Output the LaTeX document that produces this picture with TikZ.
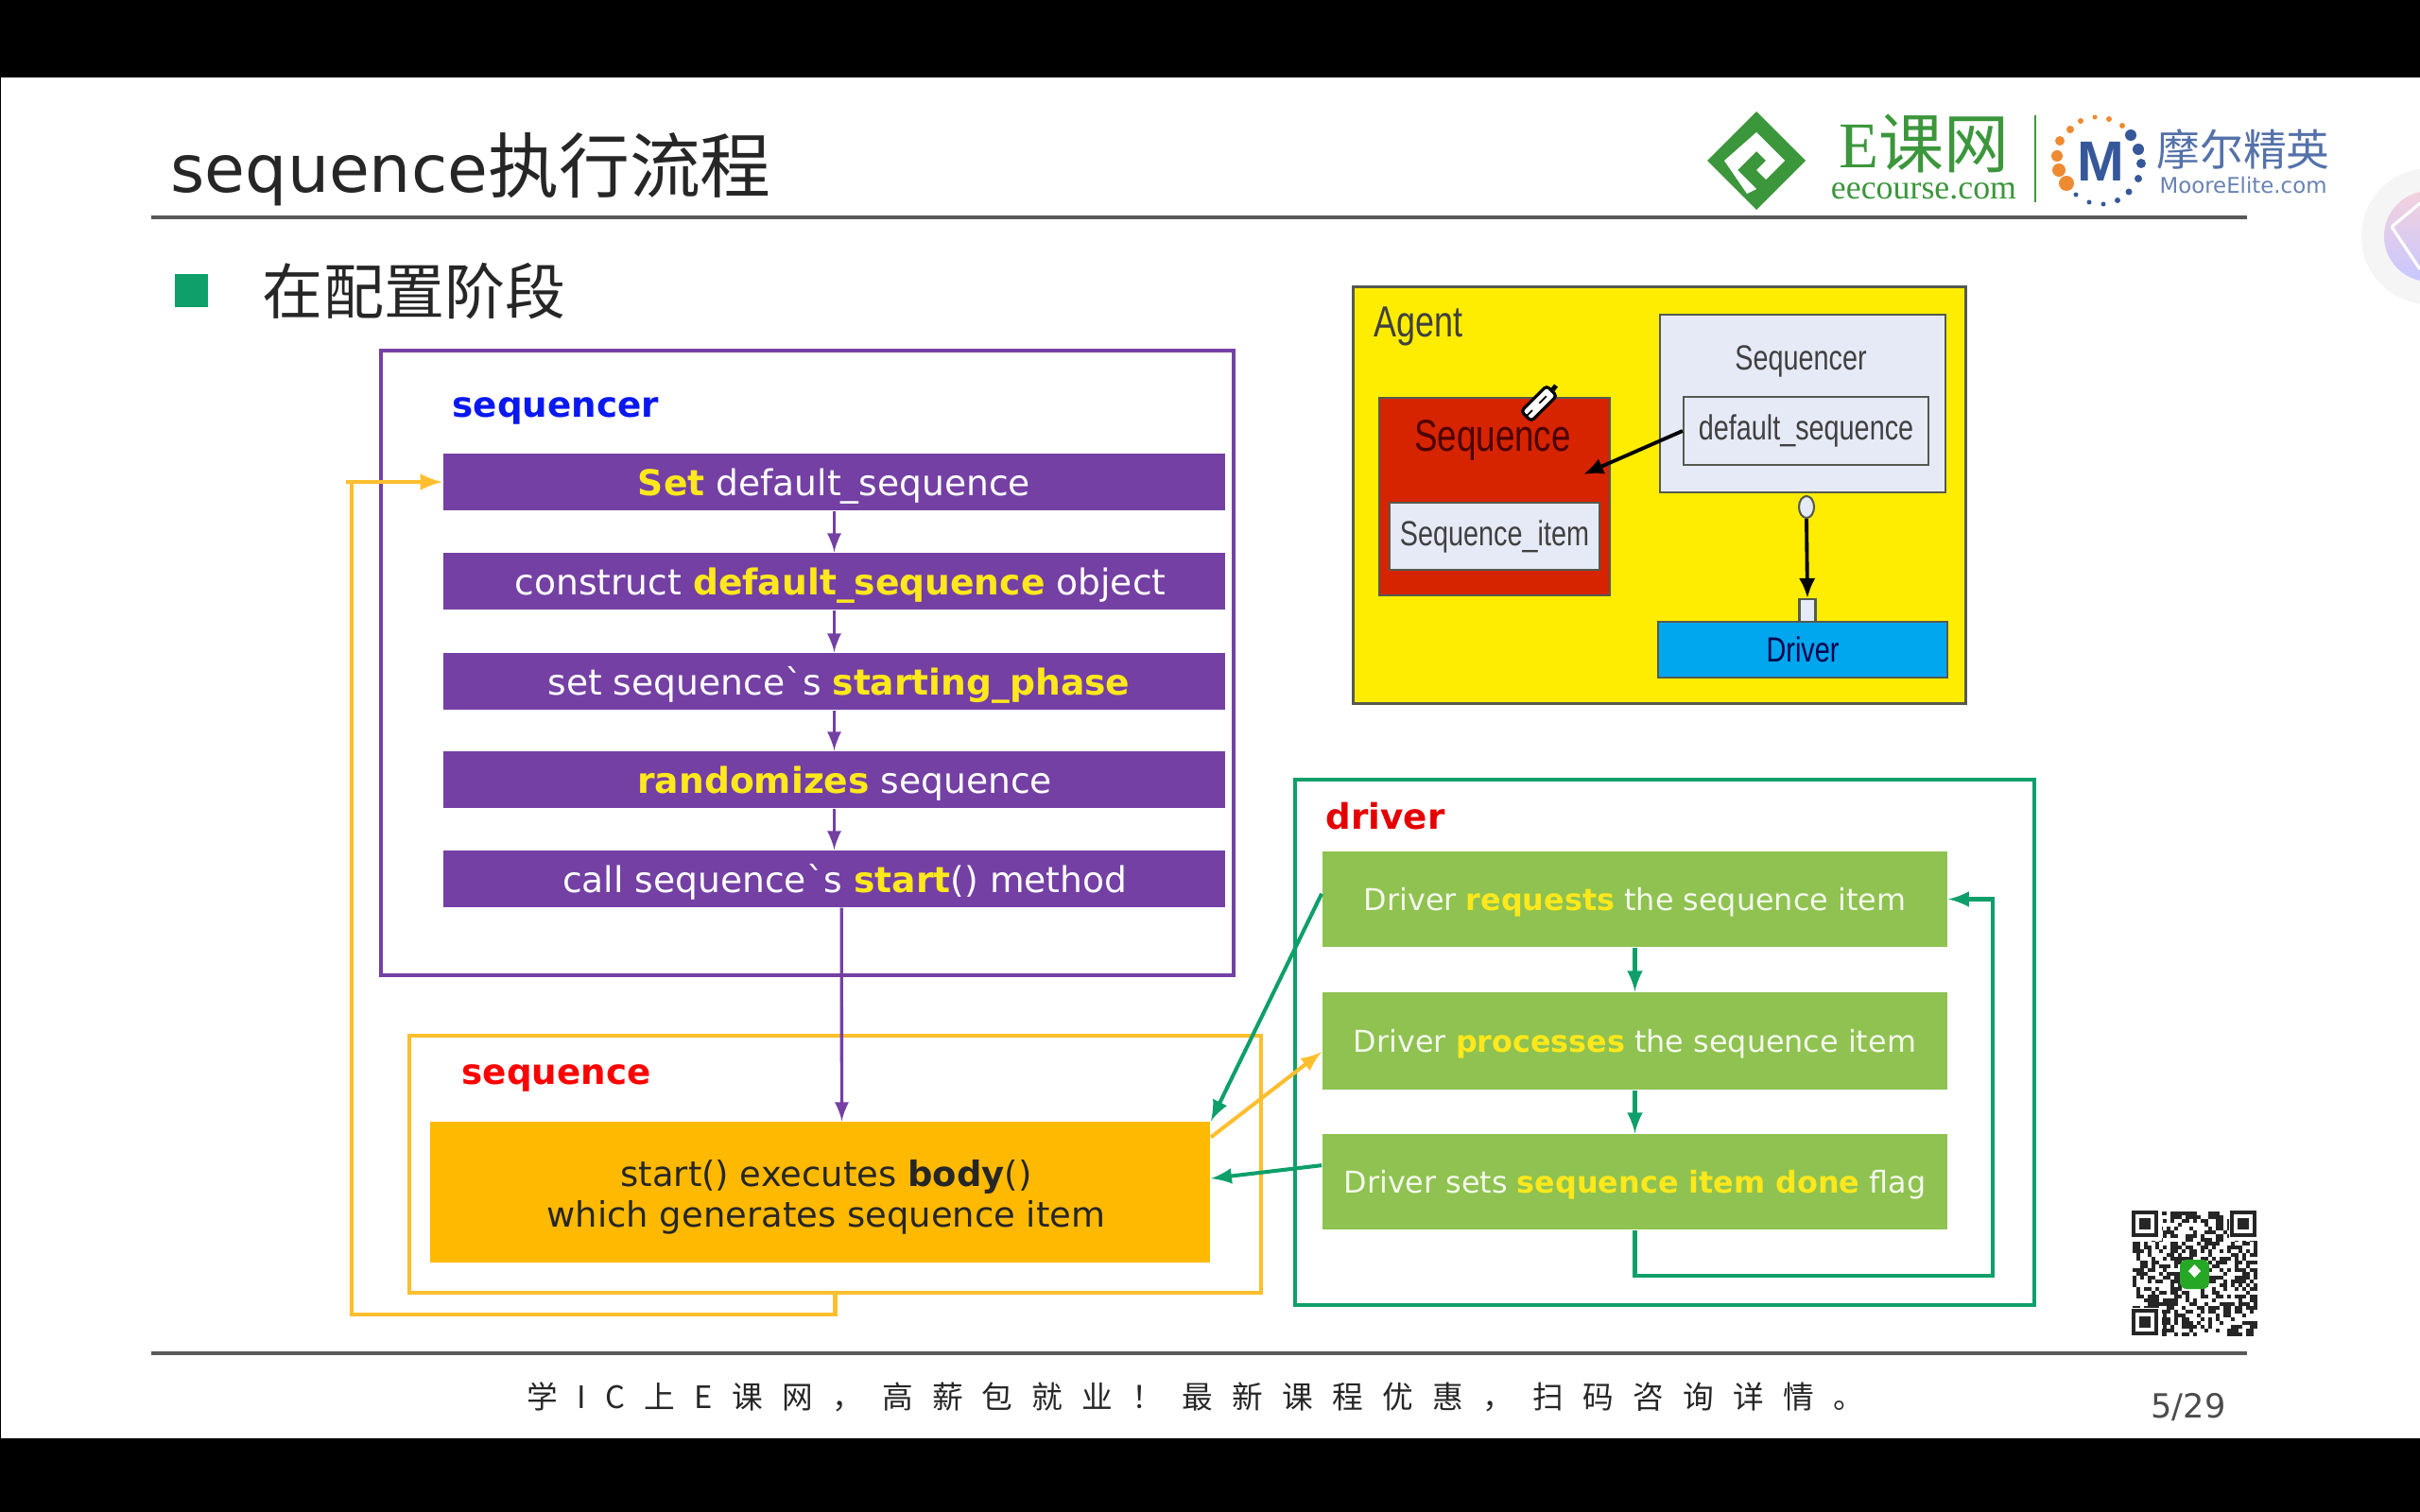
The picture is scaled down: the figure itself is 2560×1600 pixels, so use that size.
\documentclass[tikz,border=0pt]{standalone}
\usepackage{fontspec}
\setmainfont{DejaVu Sans}[Ligatures=TeXOff]
\newfontfamily\cjk{Noto Sans CJK SC}
\newfontfamily\agentfont[FakeStretch=.78]{Liberation Sans}
\newfontfamily\logofont{Liberation Serif}
\newfontfamily\mfont{Liberation Sans}
\usetikzlibrary{arrows.meta,shapes.geometric}
\definecolor{barpurple}{HTML}{7440A4}
\definecolor{frameblue}{HTML}{0A18F0}
\definecolor{loopyellow}{HTML}{FFBE2E}
\definecolor{bodyorange}{HTML}{FFB900}
\definecolor{framegreen}{HTML}{0E9F6A}
\definecolor{bargreen}{HTML}{8FC250}
\definecolor{keyyellow}{HTML}{FFE81C}
\definecolor{umlpale}{HTML}{E6EAF6}
\definecolor{umlline}{HTML}{555A50}
\definecolor{umlred}{HTML}{D62400}
\definecolor{umlblue}{HTML}{00A6EE}
\definecolor{logogreen}{HTML}{3C963C}
\definecolor{logoblue}{HTML}{36589A}
\definecolor{logoorange}{HTML}{EE8A32}
\newcommand{\keyword}[1]{{\bfseries\color{keyyellow}#1}}
\begin{document}
\begin{tikzpicture}[x=0.01cm,y=-0.01cm]
\tikzstyle{purplebar}=[fill=barpurple,text=white,minimum width=8.27cm,minimum height=0.60cm,inner sep=0pt,text height=8.5pt,text depth=0pt,font=\fontsize{10.7}{12}\selectfont]
\tikzstyle{greenbar}=[fill=bargreen,text=white!90!bargreen,minimum width=6.61cm,minimum height=1.01cm,inner sep=0pt,text height=6.8pt,text depth=0pt,font=\fontsize{9.05}{11}\selectfont]
\tikzstyle{frame}=[draw,line width=1.2pt,inner sep=0pt]
\tikzstyle{framelabel}=[font=\fontsize{10.6}{12}\bfseries\selectfont]
\tikzstyle{flow}=[barpurple,line width=0.95pt,-latex]
\tikzstyle{backflow}=[framegreen,line width=1.15pt,-latex]
\tikzstyle{umlbox}=[draw=umlline,line width=0.6pt,fill=umlpale,inner sep=0pt]
\tikzstyle{umltext}=[font=\agentfont\fontsize{10.5}{12}\selectfont,text=black!75]
\tikzstyle{umlarrow}=[line width=1.1pt,-{Latex[length=6pt,width=5pt]}]
\useasboundingbox (0,0) rectangle (2560,1600);
\fill[black] (0,0) rectangle (2560,1600);
\fill[white] (1,82) rectangle (2560,1522);
% header
\node[anchor=base west,inner sep=0pt,text=black!85,font=\fontsize{19.8}{24}\selectfont] (title) at (180,204) {sequence{\cjk\fontsize{21.3}{24}\selectfont 执行流程}};
\draw[black!65,line width=0.9pt] (160,230) -- (2377,230);
\fill[framegreen] (185,290) rectangle (220,325);
\node[text=black!85,inner sep=0pt,font=\cjk\fontsize{18.2}{22}\selectfont] (stage) at (438,308) {在配置阶段};
% logo
\fill[logogreen] (1858,118) -- (1910,170) -- (1858,222) -- (1806,170) -- cycle;
\fill[white] (1858,140) -- (1888,170) -- (1868,190) -- (1858,180) -- (1868,170) -- (1858,160) -- (1838,180) -- (1858,200) -- (1848,205) -- (1824,170) -- cycle;
\node[text=logogreen,inner sep=0pt,font=\cjk\fontsize{19.6}{22}\selectfont] (logoname) at (2035,152) {{\logofont E}课网};
\node[text=logogreen,inner sep=0pt,font=\logofont\fontsize{10.2}{12}\selectfont] (logourl) at (2035,202) {eecourse.com};
\draw[logogreen,line width=0.7pt] (2153,122) -- (2153,214);
\node[text=logoblue,inner sep=0pt,font=\mfont\fontsize{17}{20}\bfseries\selectfont] (mooreM) at (2222,171) {M};
\foreach \px/\py/\pr in {2186/194/8,2178/180/7,2176/165/6,2179/149/5,2190/137/4,2201/128/3,2216/124/2.5,2231/126/3,2245/133/3}
  \fill[logoorange] (\px,\py) circle (\pr);
\foreach \px/\py/\pr in {2254/143/6,2262/158/6,2265/173/5,2262/189/4,2252/203/3.5,2240/212/3,2225/216/2.5,2210/214/2.5,2196/206/2.5}
  \fill[logoblue] (\px,\py) circle (\pr);
\node[text=logoblue!85,inner sep=0pt,font=\cjk\fontsize{13}{15}\selectfont] (moorecn) at (2373,158) {摩尔精英};
\node[text=logoblue!75,inner sep=0pt,font=\fontsize{6.5}{8}\selectfont] (mooreurl) at (2373,196) {MooreElite.com};
% floating widget on the right
\begin{scope}
\clip (2480,170) rectangle (2560,330);
\fill[black!4] (2570,250) circle (72);
\shade[top color=purple!18,bottom color=blue!22] (2570,250) circle (48);
\draw[white,line width=0.9pt] (2530,240) -- (2560,215) (2530,240) -- (2560,285);
\end{scope}
% sequencer
\node[frame,draw=barpurple,minimum width=9.02cm,minimum height=6.61cm] (sequencer) at (854,701.5) {};
\node[framelabel,text=frameblue,anchor=west,inner sep=0pt] (sequencerlabel) at (478,435) {sequencer};
\node[purplebar] (setbar) at (882.5,510) {\keyword{Set} default\_sequence};
\node[purplebar] (constructbar) at (882.5,615) {\hspace*{3.7pt}construct \keyword{default\_sequence} object};
\node[purplebar] (phasebar) at (882.5,721) {\hspace*{2.8pt}set sequence`s \keyword{starting\_phase}};
\node[purplebar] (randombar) at (882.5,825) {\hspace*{6.4pt}\keyword{randomizes} sequence};
\node[purplebar] (callbar) at (882.5,930) {\hspace*{6.4pt}call sequence`s \keyword{start}() method};
\draw[flow] (setbar) -- (constructbar);
\draw[flow] (constructbar) -- (phasebar);
\draw[flow] (phasebar) -- (randombar);
\draw[flow] (randombar) -- (callbar);
% sequence
\node[frame,draw=loopyellow,minimum width=9.01cm,minimum height=2.72cm] (sequence) at (883.5,1232) {};
\node[framelabel,text=red,anchor=west,inner sep=0pt] (sequencelabel) at (488,1141) {sequence};
\node[fill=bodyorange,minimum width=8.25cm,minimum height=1.49cm,inner sep=0pt,align=center,text=black!85,font=\fontsize{10.5}{12.5}\selectfont] (body) at (867.5,1261.5) {\rule{0pt}{11pt}\hspace*{3.7pt}start() executes {\bfseries body}()\\\hspace*{3.7pt}which generates sequence item};
\draw[flow] (callbar.-76) -- (body.73.2);
\coordinate (loopcorner) at (372,1391);
\coordinate (loopstub) at (366,510);
\draw[loopyellow,line width=1.3pt] (sequence.south) |- (loopcorner) -- (loopcorner |- loopstub);
\draw[loopyellow,line width=1.3pt,-latex] (loopstub) -- (setbar.west);
% driver
\node[frame,draw=framegreen,minimum width=7.82cm,minimum height=5.56cm] (driver) at (1761,1103) {};
\node[framelabel,text=red!90!black,anchor=west,inner sep=0pt] (driverlabel) at (1402,864) {driver};
\node[greenbar] (requestbar) at (1729.5,951.5) {Driver \keyword{requests} the sequence item};
\node[greenbar,minimum height=1.03cm] (processbar) at (1729.5,1101.5) {Driver \keyword{processes} the sequence item};
\node[greenbar] (donebar) at (1729.5,1250.5) {Driver sets \keyword{sequence item done} flag};
\draw[backflow] (requestbar) -- (processbar);
\draw[backflow] (processbar) -- (donebar);
\coordinate (returncorner) at (2108,1350);
\draw[backflow] (donebar.south) |- (returncorner) |- (requestbar.east);
\draw[backflow] (requestbar.179) -- (body.north east);
\draw[loopyellow,line width=1.15pt,-latex] (body.8.4) -- (processbar.182);
\draw[backflow] (donebar.177) -- (body.2.2);
% agent
\node[draw=umlline,line width=0.8pt,fill=yellow!95!orange,minimum width=6.47cm,minimum height=4.41cm,inner sep=0pt] (agent) at (1755.5,524) {};
\node[umltext,font=\agentfont\fontsize{13.1}{15}\selectfont,anchor=west,inner sep=0pt] (agentlabel) at (1453,345) {Agent};
\node[umlbox,minimum width=3.02cm,minimum height=1.88cm] (sequencerbox) at (1907,427) {};
\node[umltext,inner sep=0pt] (sequencerlabelb) at (1905,382) {Sequencer};
\node[umlbox,minimum width=2.59cm,minimum height=0.72cm,umltext] (defaultbox) at (1910.5,456) {default\_sequence};
\node[draw=umlline,line width=0.6pt,fill=umlred,minimum width=2.44cm,minimum height=2.09cm,inner sep=0pt] (sequencebox) at (1581,525.5) {};
\node[umltext,text=black!70!red,font=\agentfont\fontsize{13.4}{15}\selectfont,inner sep=0pt] (sequencelabelb) at (1579,466) {Sequence};
\node[umlbox,minimum width=2.22cm,minimum height=0.71cm,umltext] (itembox) at (1581,567.5) {Sequence\_item};
\node[draw=umlline,line width=0.6pt,fill=umlblue,minimum width=3.06cm,minimum height=0.59cm,inner sep=0pt,umltext,text=blue!30!black] (driverbox) at (1907,687.5) {Driver};
\node[umlbox,ellipse,minimum width=0.16cm,minimum height=0.23cm] (portout) at (1911,536.5) {};
\node[umlbox,minimum width=0.17cm,minimum height=0.24cm] (portin) at (1912,646) {};
\coordinate (sequencetip) at (1675,502);
\draw[umlarrow] (defaultbox.west) -- (sequencetip);
\draw[umlarrow] (portout.south) -- (portin.north);
\node[draw=black,line width=0.9pt,fill=white,rounded corners=1pt,rotate=45,minimum width=0.38cm,minimum height=0.15cm,inner sep=0pt] (pen) at (1628,427) {};
\draw[black,line width=0.5pt,dashed] (pen.west) -- (pen.east);
\coordinate (pentip) at (1646,408);
\draw[black,line width=1.4pt] (pen.east) -- (pentip);
% qr code
\pgfmathsetseed{29}
\foreach \qi in {0,...,32}
  \foreach \qj in {0,...,32} {
    \pgfmathtruncatemacro{\qon}{rnd>0.52?1:0}
    \ifnum\qon=1 \fill[black!85] (2256+\qi*4,1282+\qj*4) rectangle ++(4,4); \fi
  }
\foreach \fx/\fy in {2254/1280,2358/1280,2254/1384} {
  \fill[white] (\fx,\fy) rectangle ++(33,33);
  \fill[black!85] (\fx+1,\fy+1) rectangle ++(28,28);
  \fill[white] (\fx+5,\fy+5) rectangle ++(20,20);
  \fill[black!85] (\fx+9,\fy+9) rectangle ++(12,12);
}
\fill[green!60!black!85,rounded corners=2pt] (2306,1333) rectangle (2337,1364);
\fill[white] (2321.5,1338) -- (2328,1345) -- (2321.5,1352) -- (2315,1345) -- cycle;
% footer
\draw[black!65,line width=0.9pt] (160,1432) -- (2377,1432);
\node[inner sep=0pt,text=black!85,font=\cjk\fontsize{9.3}{11}\selectfont] (slogan) at (1265,1478) {\spaceskip=0.62em 学 I C 上 E 课 网 ， 高 薪 包 就 业 ！ 最 新 课 程 优 惠 ， 扫 码 咨 询 详 情 。};
\node[inner sep=0pt,text=black!70,font=\fontsize{10}{12}\selectfont] (pagenum) at (2315,1489) {5/29};
\end{tikzpicture}
\end{document}
